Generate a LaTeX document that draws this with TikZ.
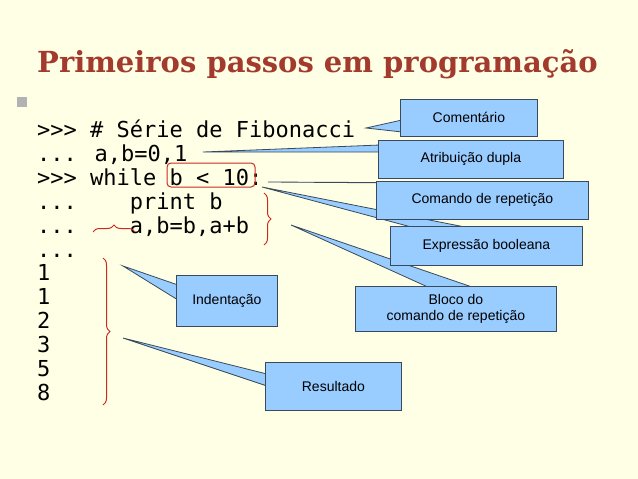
\documentclass[tikz,border=0pt]{standalone}
\usepackage{fontspec}
\setmainfont{Liberation Sans}
\newfontfamily\codefont{DejaVu Sans Mono}
\newfontfamily\titlefont{DejaVu Serif}
\usetikzlibrary{decorations.pathreplacing}
\definecolor{bg}{HTML}{FFFFE6}
\definecolor{callfill}{HTML}{99CCFF}
\definecolor{callline}{HTML}{3A4A5A}
\definecolor{titlered}{HTML}{A33A2E}
\definecolor{bracered}{HTML}{CC2A1E}
\tikzset{
 callbox/.style={fill=callfill,draw=callline,line width=0.8pt,inner sep=0pt,align=center,font=\fontsize{14}{16}\selectfont},
 wedge/.style={fill=callfill,draw=callline,line width=0.8pt,line join=miter},
 code/.style={anchor=base west,inner sep=0pt,font=\codefont\fontsize{22}{24}\selectfont},
 redbrace/.style={draw=bracered,line width=1pt,decorate,decoration={brace,amplitude=7pt}}
}
\begin{document}
\begin{tikzpicture}[x=1pt,y=-1pt]
\fill[bg] (0,0) rectangle (638,479);
\useasboundingbox (0,0) rectangle (638,479);
\node[anchor=base west,inner sep=0pt,text=titlered,font=\titlefont\bfseries\fontsize{29}{32}\selectfont] (title) at (37,72) {Primeiros passos em programação};
\fill[gray!60] (17,97) rectangle (27,107);
% code
\node[code] (l1) at (37,137) {>>> \# Série de Fibonacci};
\node[code] (l2) at (37,161) {... a,b=0,1};
\node[code] (l3) at (37,185) {>>> while b < 10:};
\node[code] (l4) at (37,209) {...\ \ \ \ print b};
\node[code] (l5) at (37,233) {...\ \ \ \ a,b=b,a+b};
\node[code] (l6) at (37,257) {...};
\node[code] (l7) at (37,280) {1};
\node[code] (l8) at (37,304) {1};
\node[code] (l9) at (37,328) {2};
\node[code] (l10) at (37,352) {3};
\node[code] (l11) at (37,376) {5};
\node[code] (l12) at (37,400) {8};
% red marks
\draw[bracered,line width=1pt,rounded corners=4pt] (167,163) rectangle (255,187);
\draw[redbrace] (264,193) -- (264,245);
\draw[redbrace] (93,232) -- (135,232);
\draw[redbrace] (103,258) -- (103,405);
% callouts: wedge then box
\coordinate (t1) at (366,128);
\coordinate (t2) at (203,152);
\coordinate (t3) at (268,182);
\coordinate (t4) at (262,187);
\coordinate (t5) at (291,225);
\coordinate (t6) at (123,266);
\coordinate (t7) at (123,338);
\draw[wedge] (t1) -- (402,120) -- (402,132) -- cycle;
\draw[wedge] (t2) -- (380,145) -- (380,152) -- cycle;
\draw[wedge] (t3) -- (400,183) -- (470,183) -- cycle;
\draw[wedge] (t4) -- (415,228) -- (470,228) -- cycle;
\draw[wedge] (t5) -- (430,288) -- (475,288) -- cycle;
\draw[wedge] (t6) -- (178,285) -- (178,300) -- cycle;
\draw[wedge] (t7) -- (267,374) -- (267,386) -- cycle;
\node[callbox,minimum width=137pt,minimum height=37pt,anchor=north west] (c1) at (400,99) {Comentário};
\node[callbox,minimum width=185pt,minimum height=38pt,anchor=north west] (c2) at (378,140) {Atribuição dupla};
\node[callbox,minimum width=212pt,minimum height=38pt,anchor=north west] (c3) at (376,181) {Comando de repetição};
\node[callbox,minimum width=192pt,minimum height=39pt,anchor=north west] (c4) at (390,226) {Expressão booleana};
\node[callbox,minimum width=201pt,minimum height=45pt,anchor=north west] (c5) at (355,286) {Bloco do\\comando de repetição};
\node[callbox,minimum width=101pt,minimum height=51pt,anchor=north west] (c6) at (176,275) {Indentação};
\node[callbox,minimum width=136pt,minimum height=48pt,anchor=north west] (c7) at (265,362) {Resultado};
\end{tikzpicture}
\end{document}
